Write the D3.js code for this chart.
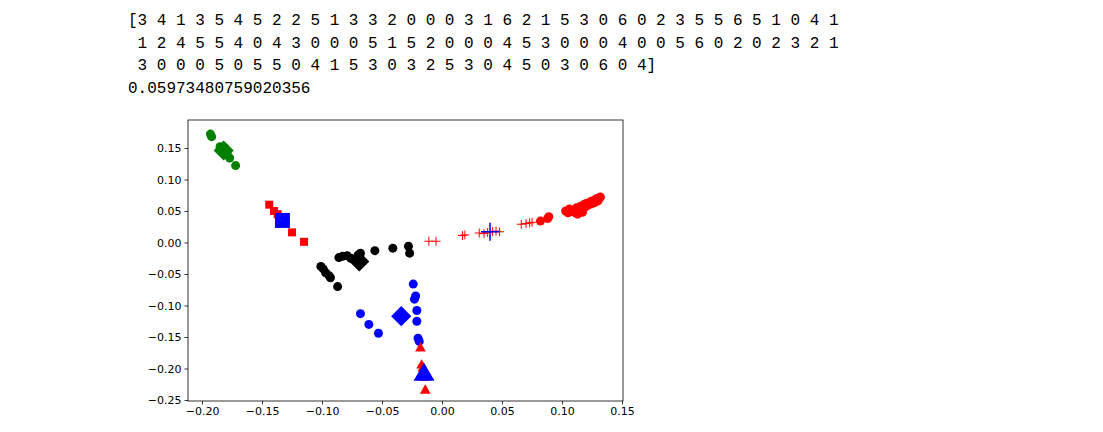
<!DOCTYPE html>
<html><head><meta charset="utf-8">
<script src="https://cdn.jsdelivr.net/npm/d3@7"></script>
<style>body{margin:0;background:#fff}</style>
</head><body>
<script>
var textLines = [
  "[3 4 1 3 5 4 5 2 2 5 1 3 3 2 0 0 0 3 1 6 2 1 5 3 0 6 0 2 3 5 5 6 5 1 0 4 1",
  " 1 2 4 5 5 4 0 4 3 0 0 0 5 1 5 2 0 0 0 4 5 3 0 0 0 4 0 0 5 6 0 2 0 2 3 2 1",
  " 3 0 0 0 5 0 5 5 0 4 1 5 3 0 3 2 5 3 0 4 5 0 3 0 6 0 4]",
  "0.05973480759020356"
];
var greenCircles = [[-0.193,0.172],[-0.192,0.168],[-0.185,0.152],[-0.183,0.148],[-0.181,0.150],[-0.179,0.143],[-0.177,0.134],[-0.172,0.122]];
var redSquares = [[-0.144,0.060],[-0.140,0.050],[-0.137,0.045],[-0.125,0.016],[-0.115,0.001]];
var blackCircles = [[-0.101,-0.038],[-0.099,-0.042],[-0.097,-0.048],[-0.094,-0.053],[-0.093,-0.056],[-0.087,-0.070],[-0.086,-0.024],[-0.083,-0.022],[-0.079,-0.021],[-0.076,-0.025],[-0.072,-0.028],[-0.070,-0.020],[-0.068,-0.017],[-0.056,-0.013],[-0.041,-0.009],[-0.028,-0.006],[-0.027,-0.017]];
var blueCircles = [[-0.024,-0.066],[-0.023,-0.090],[-0.022,-0.085],[-0.021,-0.108],[-0.021,-0.125],[-0.020,-0.152],[-0.019,-0.157],[-0.068,-0.113],[-0.061,-0.130],[-0.053,-0.144]];
var redTriangles = [[-0.018,-0.168],[-0.017,-0.195],[-0.016,-0.200],[-0.015,-0.215],[-0.014,-0.235]];
var redPlus = [[-0.011,0.002],[-0.005,0.002],[0.017,0.011],[0.019,0.012],[0.031,0.015],[0.035,0.014],[0.038,0.016],[0.042,0.017],[0.045,0.018],[0.048,0.017],[0.066,0.029],[0.070,0.030],[0.073,0.031],[0.075,0.032]];
var redCircles = [[0.082,0.034],[0.088,0.038],[0.089,0.041],[0.103,0.050],[0.105,0.047],[0.106,0.053],[0.108,0.049],[0.110,0.052],[0.111,0.047],[0.112,0.055],[0.114,0.050],[0.115,0.057],[0.116,0.053],[0.118,0.060],[0.119,0.056],[0.120,0.062],[0.121,0.058],[0.123,0.064],[0.124,0.061],[0.125,0.066],[0.127,0.063],[0.128,0.068],[0.129,0.070],[0.130,0.066],[0.131,0.071],[0.132,0.072],[0.113,0.045],[0.117,0.048]];
var centroids = [
  {shape:"diamond", color:"green", p:[-0.182,0.146]},
  {shape:"square", color:"blue", p:[-0.133,0.035]},
  {shape:"diamond", color:"black", p:[-0.069,-0.030]},
  {shape:"diamond", color:"blue", p:[-0.034,-0.117]},
  {shape:"triangle", color:"blue", p:[-0.015,-0.210]},
  {shape:"plus", color:"blue", p:[0.040,0.017]}
];
var xTicks = [-0.20,-0.15,-0.10,-0.05,0.00,0.05,0.10,0.15];
var yTicks = [0.15,0.10,0.05,0.00,-0.05,-0.10,-0.15,-0.20,-0.25];

var W = 1103, H = 432;
var svg = d3.select("body").append("svg").attr("width", W).attr("height", H);

svg.selectAll("text.out").data(textLines).enter().append("text")
  .attr("x", 128).attr("y", function(d, i) { return 25 + i * 22.5; })
  .attr("font-family", "Liberation Mono").attr("font-size", "16px")
  .attr("xml:space", "preserve").style("white-space", "pre")
  .text(function(d) { return d; });

var L = 188, R = 623, T = 120, B = 401;
var x = d3.scaleLinear().domain([-0.2117, 0.1508]).range([L, R]);
var y = d3.scaleLinear().domain([0.1944, -0.2516]).range([T, B]);

var fmt = d3.format(".2f");
var xa = svg.append("g").attr("transform", "translate(0," + B + ")")
  .call(d3.axisBottom(x).tickValues(xTicks).tickSize(3.5).tickPadding(3).tickFormat(function(d){return fmt(d).replace("-","\u2212");}));
var ya = svg.append("g").attr("transform", "translate(" + L + ",0)")
  .call(d3.axisLeft(y).tickValues(yTicks).tickSize(3.5).tickPadding(3).tickFormat(function(d){return fmt(d).replace("-","\u2212");}));
[xa, ya].forEach(function(a) {
  a.select(".domain").remove();
  a.selectAll("text").attr("font-family", "DejaVu Sans").attr("font-size", "11px").attr("fill", "#000");
  a.selectAll("line").attr("stroke", "#000").attr("stroke-width", 0.8);
});
svg.append("rect").attr("x", L).attr("y", T).attr("width", R - L).attr("height", B - T)
  .attr("fill", "none").attr("stroke", "#000").attr("stroke-width", 0.8);

var plot = svg.append("g");
function circles(data, color) {
  plot.append("g").selectAll("circle").data(data).enter().append("circle")
    .attr("cx", function(d) { return x(d[0]); }).attr("cy", function(d) { return y(d[1]); })
    .attr("r", 4.5).attr("fill", color);
}
function symbols(data, type, size, color) {
  plot.append("g").selectAll("path").data(data).enter().append("path")
    .attr("d", d3.symbol().type(type).size(size))
    .attr("transform", function(d) { return "translate(" + x(d[0]) + "," + y(d[1]) + ")"; })
    .attr("fill", color);
}
function pluses(data, s, color, w) {
  plot.append("g").selectAll("path").data(data).enter().append("path")
    .attr("d", "M" + (-s) + ",0H" + s + "M0," + (-s) + "V" + s)
    .attr("transform", function(d) { return "translate(" + x(d[0]) + "," + y(d[1]) + ")"; })
    .attr("stroke", color).attr("stroke-width", w).attr("fill", "none");
}
circles(greenCircles, "green");
symbols(redSquares, d3.symbolSquare, 64, "red");
circles(blackCircles, "black");
circles(blueCircles, "blue");
symbols(redTriangles, d3.symbolTriangle, 50, "red");
pluses(redPlus, 4.5, "red", 1);
circles(redCircles, "red");

var diamond = {draw: function(ctx, size) { var r = Math.sqrt(size) / 1.4; ctx.moveTo(0,-r); ctx.lineTo(r,0); ctx.lineTo(0,r); ctx.lineTo(-r,0); ctx.closePath(); }};
centroids.forEach(function(c) {
  if (c.shape === "plus") { pluses([c.p], 9, c.color, 1.5); return; }
  var t = c.shape === "diamond" ? diamond : c.shape === "square" ? d3.symbolSquare : d3.symbolTriangle;
  var sz = c.shape === "diamond" ? 200 : c.shape === "square" ? 225 : 190;
  symbols([c.p], t, sz, c.color);
});
</script>
</body></html>
